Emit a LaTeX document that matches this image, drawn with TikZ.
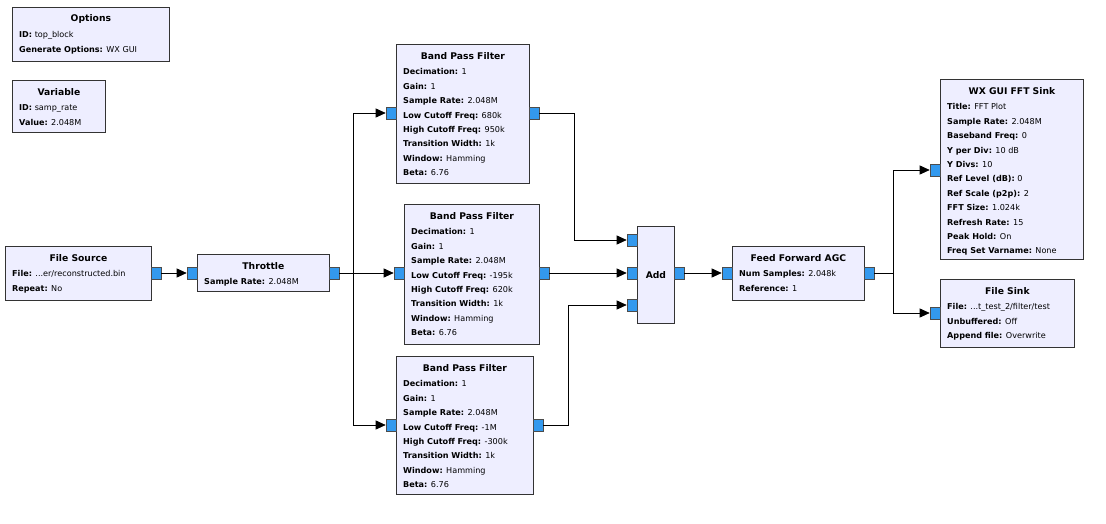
\documentclass[tikz,border=0pt]{standalone}
\usepackage{fontspec}
\setmainfont{DejaVu Sans}
\usetikzlibrary{arrows.meta,calc}
\definecolor{blockfill}{HTML}{EEEEFF}
\definecolor{portfill}{HTML}{3399EE}
\tikzset{
  blk/.style={draw=black!80, fill=blockfill, line width=0.8pt, anchor=north west, inner sep=0pt},
  port/.style={draw=black!70, fill=portfill, line width=0.6pt, minimum width=10pt, minimum height=12pt, inner sep=0pt},
  ttl/.style={font=\fontsize{9.2}{10}\selectfont\bfseries, inner sep=0pt},
  prm/.style={font=\fontsize{8.1}{14.4}\selectfont, align=left, anchor=north west, inner sep=0pt},
  wire/.style={line width=0.7pt, -{Triangle[length=10pt,width=9pt]}},
  link/.style={line width=0.7pt}
}
% block: name, x, y, width, height, title, params
\newcommand{\grblock}[7]{%
  \node[blk, minimum width=#4pt, minimum height=#5pt] (#1) at (#2,#3) {};
  \node[ttl] at ($(#1.north)+(0,12)$) {#6};
  \node[prm] at ($(#1.north west)+(7,24.5)$) {#7};
}
\begin{document}
\begin{tikzpicture}[x=1pt,y=-1pt]
\useasboundingbox[fill=white] (0,0) rectangle (1106,523);

\grblock{opts}{12}{7}{157}{54}{Options}{\textbf{ID:} top\_block\\\textbf{Generate Options:} WX GUI}
\grblock{var}{12}{80}{93}{52}{Variable}{\textbf{ID:} samp\_rate\\\textbf{Value:} 2.048M}
\grblock{src}{5}{246}{146}{54}{File Source}{\textbf{File:} ...er/reconstructed.bin\\\textbf{Repeat:} No}
\grblock{thr}{197}{254}{132}{37}{Throttle}{\textbf{Sample Rate:} 2.048M}
\grblock{bpfa}{396}{44}{133}{139}{Band Pass Filter}{\textbf{Decimation:} 1\\\textbf{Gain:} 1\\\textbf{Sample Rate:} 2.048M\\\textbf{Low Cutoff Freq:} 680k\\\textbf{High Cutoff Freq:} 950k\\\textbf{Transition Width:} 1k\\\textbf{Window:} Hamming\\\textbf{Beta:} 6.76}
\grblock{bpfb}{404}{204}{135}{140}{Band Pass Filter}{\textbf{Decimation:} 1\\\textbf{Gain:} 1\\\textbf{Sample Rate:} 2.048M\\\textbf{Low Cutoff Freq:} -195k\\\textbf{High Cutoff Freq:} 620k\\\textbf{Transition Width:} 1k\\\textbf{Window:} Hamming\\\textbf{Beta:} 6.76}
\grblock{bpfc}{396}{356}{137}{138}{Band Pass Filter}{\textbf{Decimation:} 1\\\textbf{Gain:} 1\\\textbf{Sample Rate:} 2.048M\\\textbf{Low Cutoff Freq:} -1M\\\textbf{High Cutoff Freq:} -300k\\\textbf{Transition Width:} 1k\\\textbf{Window:} Hamming\\\textbf{Beta:} 6.76}
\node[blk, minimum width=37pt, minimum height=97pt] (add) at (637,226) {};
\node[ttl] at (add.center) {Add};
\grblock{agc}{732}{246}{132}{54}{Feed Forward AGC}{\textbf{Num Samples:} 2.048k\\\textbf{Reference:} 1}
\grblock{fft}{940}{79}{143}{180}{WX GUI FFT Sink}{\textbf{Title:} FFT Plot\\\textbf{Sample Rate:} 2.048M\\\textbf{Baseband Freq:} 0\\\textbf{Y per Div:} 10 dB\\\textbf{Y Divs:} 10\\\textbf{Ref Level (dB):} 0\\\textbf{Ref Scale (p2p):} 2\\\textbf{FFT Size:} 1.024k\\\textbf{Refresh Rate:} 15\\\textbf{Peak Hold:} On\\\textbf{Freq Set Varname:} None}
\grblock{snk}{940}{279}{134}{68}{File Sink}{\textbf{File:} ...t\_test\_2/filter/test\\\textbf{Unbuffered:} Off\\\textbf{Append file:} Overwrite}

% ports
\node[port] (srcout) at (156,273) {};
\node[port] (thrin) at (192,273) {};
\node[port] (throut) at (334,273) {};
\node[port] (bpfain) at (391,113) {};
\node[port] (bpfaout) at (534,113) {};
\node[port] (bpfbin) at (399,273) {};
\node[port] (bpfbout) at (544,273) {};
\node[port] (bpfcin) at (391,425) {};
\node[port] (bpfcout) at (538,425) {};
\node[port] (addina) at (632,240) {};
\node[port] (addinb) at (632,273) {};
\node[port] (addinc) at (632,305) {};
\node[port] (addout) at (679,273) {};
\node[port] (agcin) at (727,273) {};
\node[port] (agcout) at (869,273) {};
\node[port] (fftin) at (935,170) {};
\node[port] (snkin) at (935,313) {};

% connections
\draw[wire] (srcout.east) -- (thrin.west);
\draw[wire] (throut.east) -- (bpfbin.west);
\draw[wire] (throut.east) -- (353,273) |- (bpfain.west);
\draw[wire] (throut.east) -- (353,273) |- (bpfcin.west);
\draw[wire] (bpfaout.east) -- (574,113) |- (addina.west);
\draw[wire] (bpfbout.east) -- (addinb.west);
\draw[wire] (bpfcout.east) -- (568,425) |- (addinc.west);
\draw[wire] (addout.east) -- (agcin.west);
\draw[wire] (agcout.east) -- (893,273) |- (fftin.west);
\draw[wire] (agcout.east) -- (893,273) |- (snkin.west);
\end{tikzpicture}
\end{document}
